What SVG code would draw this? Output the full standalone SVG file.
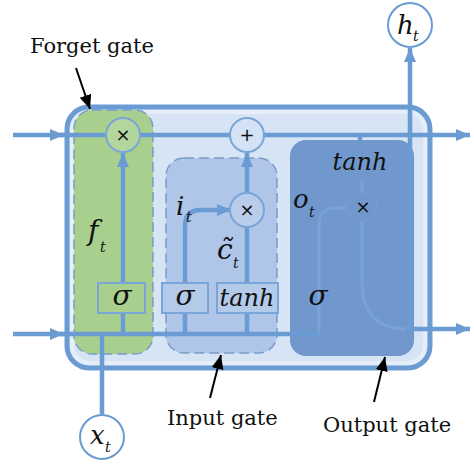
<svg xmlns="http://www.w3.org/2000/svg" width="474" height="474" viewBox="0 0 474 474">
<defs>
<style>
.ln{fill:none;stroke:#6a9bd3;stroke-width:4.5;stroke-linejoin:round}
.op{font-family:'DejaVu Sans',sans-serif;font-size:18px;fill:#111;text-anchor:middle}
.box{stroke:#7aa5d8;stroke-width:2}
.serif{font-family:'DejaVu Serif',serif;fill:#111}
.it{font-family:'DejaVu Serif',serif;font-style:italic;fill:#111}
</style>
<marker id="ah" markerUnits="userSpaceOnUse" markerWidth="14" markerHeight="12" refX="14" refY="6" orient="auto">
<path d="M0,0 L14,6 L0,12 z" fill="#6a9bd3"/>
</marker>
<marker id="bk" markerUnits="userSpaceOnUse" markerWidth="14" markerHeight="24" refX="14" refY="6" orient="auto">
<path d="M0,0 L14,6 L0,12 z" fill="#000"/>
</marker>
</defs>

<g id="cell">
<rect x="67" y="107" width="363" height="261" rx="22" fill="#d6e4f5" stroke="#6a9bd3" stroke-width="5"/>
<rect x="72" y="112" width="353" height="251" rx="18" fill="none" stroke="#e6eef9" stroke-width="4"/>
</g>
<g id="forget-gate">
<rect x="74" y="110" width="79" height="244" rx="18" fill="#a9cf8f" stroke="#7a9cc8" stroke-width="1.5" stroke-dasharray="10,5"/>
</g>
<g id="input-gate">
<rect x="166" y="158" width="111" height="195" rx="18" fill="#afc6e8" stroke="#7a9cc8" stroke-width="1.5" stroke-dasharray="10,5"/>
</g>
<g id="output-gate">
<rect x="290" y="140" width="124" height="216" rx="16" fill="#7198cd"/>
</g>

<g id="connectors">
<line class="ln" x1="13" y1="135" x2="64" y2="135" marker-end="url(#ah)"/>
<line class="ln" x1="60" y1="135" x2="470" y2="135" marker-end="url(#ah)"/>
<line class="ln" x1="13" y1="334" x2="64" y2="334" marker-end="url(#ah)"/>
<line class="ln" x1="60" y1="334" x2="319" y2="334"/>
<line class="ln" x1="102" y1="414" x2="102" y2="334"/>
<line class="ln" x1="123" y1="334" x2="123" y2="313"/>
<line class="ln" x1="185" y1="334" x2="185" y2="313"/>
<line class="ln" x1="247" y1="334" x2="247" y2="313"/>
<line class="ln" x1="123" y1="283" x2="123" y2="153" marker-end="url(#ah)"/>
<path class="ln" d="M185,283 V226 Q185,210 201,210 H231" marker-end="url(#ah)"/>
<line class="ln" x1="247" y1="283" x2="247" y2="227"/>
<line class="ln" x1="247" y1="193" x2="247" y2="153" marker-end="url(#ah)"/>
<line class="ln" x1="360" y1="135" x2="360" y2="142"/>
<path d="M319,334 V224 Q319,208 335,208 H346" fill="none" stroke="#77a3d8" stroke-width="3"/>
<line x1="362" y1="180" x2="362" y2="192" stroke="#77a3d8" stroke-width="3"/>
<path d="M362,222 V282 Q362,329 408,329" fill="none" stroke="#77a3d8" stroke-width="3"/>
<line class="ln" x1="406" y1="329" x2="470" y2="329" marker-end="url(#ah)"/>
<line class="ln" x1="410" y1="329" x2="410" y2="48" marker-end="url(#ah)"/>
</g>

<g id="forget-mult">
<circle cx="123" cy="135" r="17" fill="#b3d69c" stroke="#7aa5d8" stroke-width="2"/>
<text class="op" x="123" y="141">×</text>
</g>
<g id="cell-add">
<circle cx="247" cy="135" r="17" fill="#d3e2f4" stroke="#7aa5d8" stroke-width="2"/>
<text class="op" x="247" y="141">+</text>
</g>
<g id="input-mult">
<circle cx="247" cy="210" r="17" fill="#b9cdeb" stroke="#7aa5d8" stroke-width="2"/>
<text class="op" x="247" y="216">×</text>
</g>
<g id="output-mult">
<circle cx="362" cy="207" r="15" fill="#7198cd" stroke="#789fd2" stroke-width="1"/>
<text class="op" x="363" y="213">×</text>
</g>

<g id="forget-sigma">
<rect class="box" x="98" y="283" width="47" height="30" fill="#a9cf8f"/>
<text class="it" x="122" y="305" font-size="28" text-anchor="middle">σ</text>
</g>
<g id="input-sigma">
<rect class="box" x="162" y="283" width="46" height="30" fill="#b4cae9"/>
<text class="it" x="185" y="305" font-size="28" text-anchor="middle">σ</text>
</g>
<g id="input-tanh">
<rect class="box" x="217" y="283" width="61" height="30" fill="#b4cae9"/>
<text class="it" x="247" y="306" font-size="24" text-anchor="middle">tanh</text>
</g>
<g id="output-sigma">
<text class="it" x="318" y="305" font-size="28" text-anchor="middle">σ</text>
</g>
<g id="output-tanh">
<text class="it" x="360" y="170" font-size="24" text-anchor="middle">tanh</text>
</g>

<g id="labels-math">
<text class="it" x="88" y="240" font-size="28">f</text>
<text class="it" x="100" y="252" font-size="14">t</text>
<text class="it" x="176" y="215" font-size="26">i</text>
<text class="it" x="186" y="222" font-size="14">t</text>
<text class="it" x="217" y="259" font-size="28">c̃</text>
<text class="it" x="233" y="268" font-size="14">t</text>
<text class="it" x="293" y="208" font-size="26">o</text>
<text class="it" x="309" y="217" font-size="14">t</text>
</g>

<g id="h-out">
<circle cx="410" cy="25" r="22" fill="#fff" stroke="#6a9bd3" stroke-width="2"/>
<text class="it" x="397" y="34" font-size="26">h</text>
<text class="it" x="413" y="41" font-size="14">t</text>
</g>
<g id="x-in">
<circle cx="102" cy="437" r="22" fill="#fff" stroke="#6a9bd3" stroke-width="2"/>
<text class="it" x="90" y="444" font-size="26">x</text>
<text class="it" x="105" y="452" font-size="14">t</text>
</g>

<g id="annotations">
<text class="serif" x="30" y="53" font-size="21">Forget gate</text>
<line x1="76" y1="68" x2="90" y2="109" stroke="#000" stroke-width="2" marker-end="url(#bk)"/>
<text class="serif" x="167" y="425" font-size="21">Input gate</text>
<line x1="210" y1="398" x2="221" y2="355" stroke="#000" stroke-width="2" marker-end="url(#bk)"/>
<text class="serif" x="323" y="432" font-size="21">Output gate</text>
<line x1="374" y1="402" x2="385" y2="357" stroke="#000" stroke-width="2" marker-end="url(#bk)"/>
</g>
</svg>
